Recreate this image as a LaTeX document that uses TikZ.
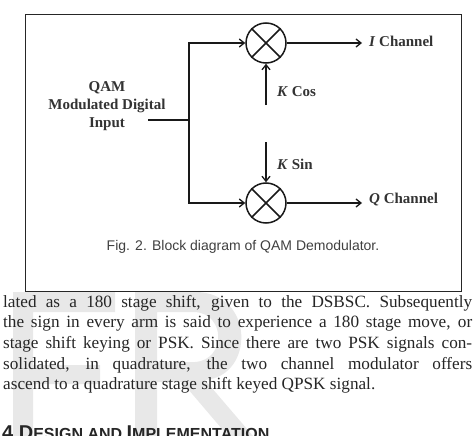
\documentclass[tikz,border=0pt]{standalone}
\usepackage{fontspec}
\setmainfont{Liberation Serif}
\newfontfamily\capfont{Liberation Sans}
\usetikzlibrary{arrows.meta}
\tikzset{
  x=1pt,y=-1pt,
  wire/.style={line width=1.5pt,black!90},
  sig/.style={wire,-{Straight Barb[length=5pt,width=8pt,line width=1.3pt]}},
  mixer/.style={circle,draw=black!90,line width=1.5pt,minimum size=40pt,inner sep=0pt},
  lab/.style={font=\bfseries\fontsize{15}{18}\selectfont,text=black!80,inner sep=0pt},
  body/.style={font=\fontsize{17.2}{20.6}\selectfont,text=black!85,inner sep=0pt,anchor=north west,text width=469pt,align=justify}
}
\begin{document}
\begin{tikzpicture}
\useasboundingbox (0,0) rectangle (474,436);
\clip (0,0) rectangle (474,436);
\fill[white] (0,0) rectangle (474,436);
% watermark
\fill[black!9] (13,292) rectangle (33,436) (33,292) rectangle (115,312) (33,365) rectangle (100,384);
\fill[black!9,even odd rule] (135,292) -- (195,292) .. controls (255,292) and (255,376) .. (205,380) -- (253,436) -- (228,436) -- (182,382) -- (157,382) -- (157,436) -- (135,436) -- cycle
 (157,312) -- (157,362) -- (195,362) .. controls (226,360) and (226,314) .. (195,312) -- cycle;
% frame
\node[draw=black!85,line width=1.3pt,minimum width=436pt,minimum height=277pt,inner sep=0pt,anchor=north west] (frame) at (25,14) {};
% mixers
\node[mixer] (m1) at (266,43) {};
\node[mixer] (m2) at (266,203) {};
\foreach \m in {m1,m2}{
  \draw[wire] (\m.45) -- (\m.225);
  \draw[wire] (\m.135) -- (\m.315);
}
% labels
\node[lab,align=center] (inp) at (107,106.5) {QAM\\Modulated Digital\\Input};
\coordinate (istart) at (148,120);
\coordinate (junc) at (189,120);
\coordinate (top) at (189,43);
\coordinate (bot) at (189,203);
\coordinate (iend) at (362,43);
\coordinate (qend) at (362,203);
\node[lab,anchor=west] (ich) at (369,41) {\textit{I} Channel};
\node[lab,anchor=west] (qch) at (369,200) {\textit{Q} Channel};
\node[lab,anchor=west] (kc) at (277,92) {\textit{K} Cos};
\node[lab,anchor=west] (ks) at (277,164) {\textit{K} Sin};
\coordinate (cs) at (266,105);
\coordinate (ss) at (266,142);
\node[font=\capfont\fontsize{14}{16}\selectfont,text=black!75,inner sep=0pt] (cap) at (243,247) {Fig. 2. Block diagram of QAM Demodulator.};
% connectors
\draw[wire] (istart) -- (junc);
\draw[sig] (junc) -- (top) -- (m1.west);
\draw[sig] (junc) -- (bot) -- (m2.west);
\draw[sig] (m1.east) -- (iend);
\draw[sig] (m2.east) -- (qend);
\draw[sig] (cs) -- (m1.south);
\draw[sig] (ss) -- (m2.north);
% text
\node[body] (txt) at (3,295) {lated as a 180 stage shift, given to the DSBSC. Subsequently\linebreak the sign in every arm is said to experience a 180 stage move, or\linebreak stage shift keying or PSK. Since there are two PSK signals con-\linebreak solidated, in quadrature, the two channel modulator offers\linebreak ascend to a quadrature stage shift keyed QPSK signal.};
\node[font=\capfont\bfseries\fontsize{20}{22}\selectfont,text=black!85,inner sep=0pt,anchor=base west] (head) at (2,439) {4 D\fontsize{16}{18}\selectfont ESIGN AND \fontsize{20}{22}\selectfont I\fontsize{16}{18}\selectfont MPLEMENTATION};
\end{tikzpicture}
\end{document}
